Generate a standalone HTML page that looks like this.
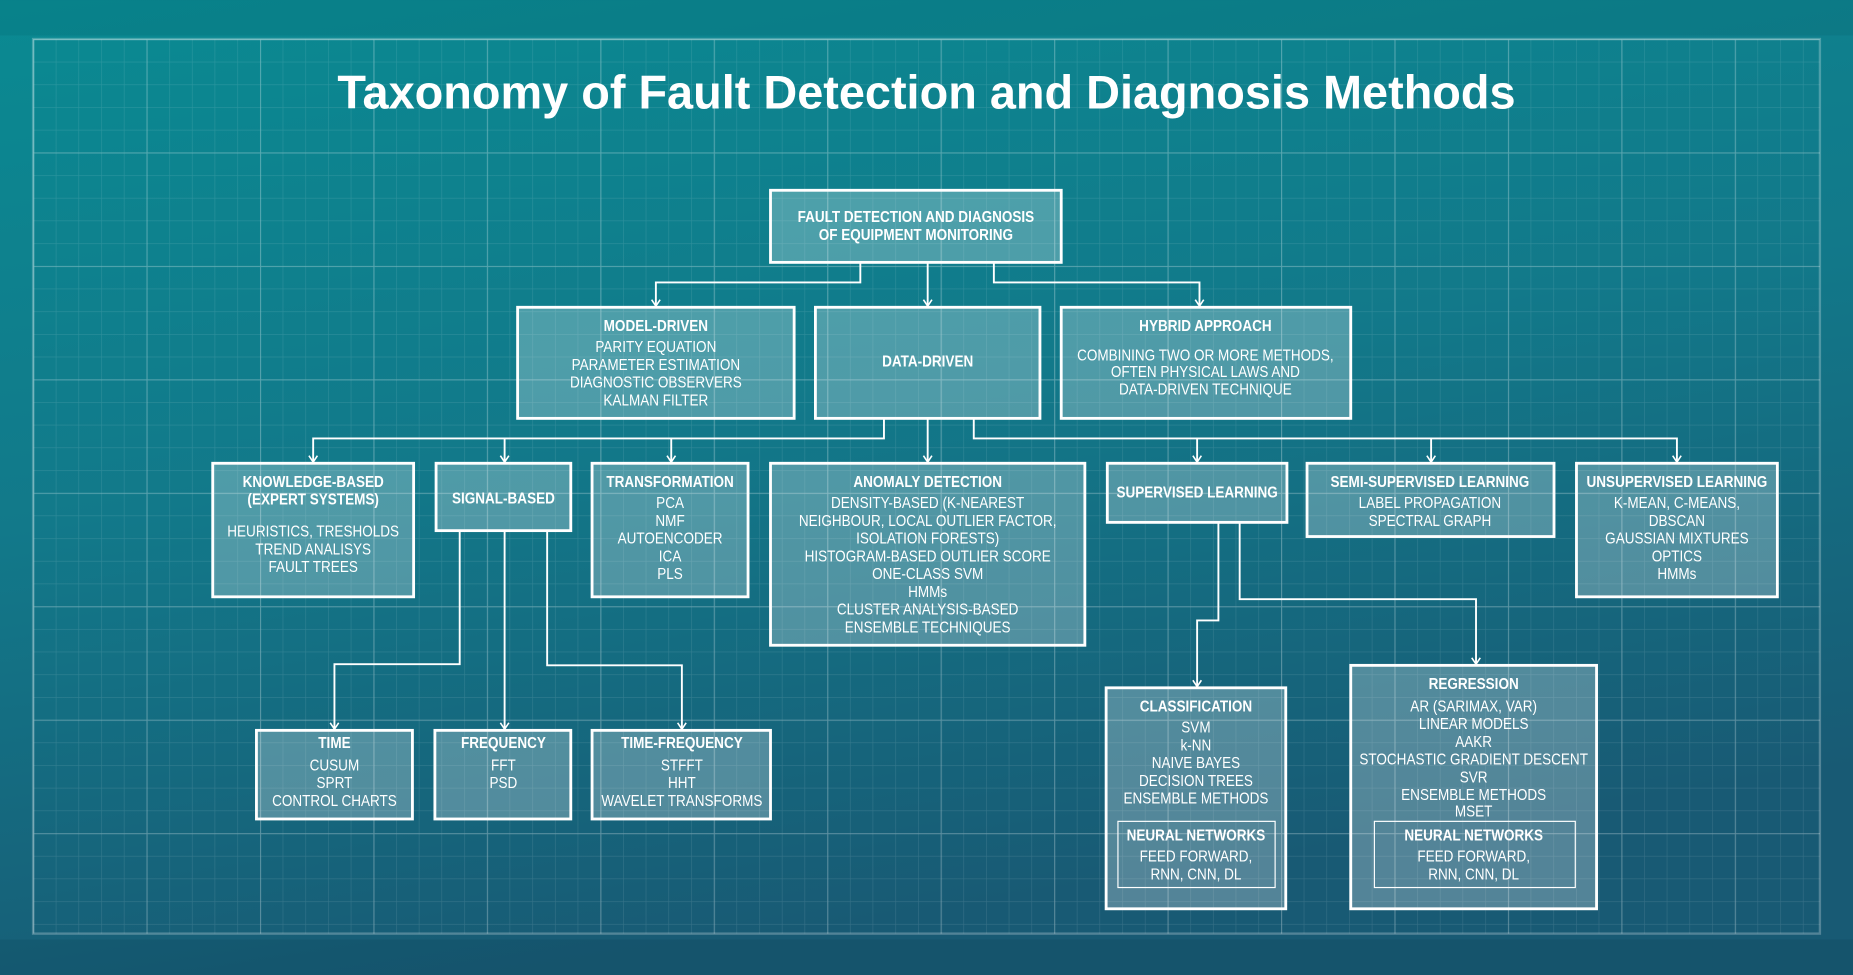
<!DOCTYPE html>
<html><head><meta charset="utf-8"><style>
html,body{margin:0;padding:0;background:#136f80;}
svg{display:block}
.t text{font-family:"Liberation Sans",sans-serif;fill:#fff;text-anchor:middle;font-size:13px;transform-box:fill-box;transform-origin:center;transform:scaleX(0.88)}
.t .b{font-weight:bold}
.box{fill:rgba(255,255,255,0.26);stroke:#fff;stroke-width:2.4}
.ib{fill:none;stroke:#fff;stroke-width:1}
.c{fill:none;stroke:#fff;stroke-width:1.6}
</style></head><body>
<svg width="1853" height="975" viewBox="0 0 1568 825" xmlns="http://www.w3.org/2000/svg">
<defs>
<linearGradient id="bg" x1="0" y1="0" x2="0.3" y2="1">
<stop offset="0" stop-color="#0a8a92"/><stop offset="0.5" stop-color="#12798a"/><stop offset="1" stop-color="#185a74"/>
</linearGradient>
<pattern id="minor" width="19.2" height="19.2" patternUnits="userSpaceOnUse" x="28" y="33">
<path d="M0 0V19.2M0 0H19.2" stroke="rgba(255,255,255,0.13)" stroke-width="1" fill="none"/>
</pattern>
<pattern id="major" width="96" height="96" patternUnits="userSpaceOnUse" x="28" y="33">
<path d="M0 0V96M0 0H96" stroke="rgba(255,255,255,0.22)" stroke-width="2" fill="none"/>
</pattern>
<marker id="ar" viewBox="0 0 10 10" refX="9" refY="5" markerWidth="9" markerHeight="9" orient="auto" markerUnits="userSpaceOnUse">
<path d="M3 1L9 5L3 9" fill="none" stroke="#fff" stroke-width="1.5"/>
</marker>
</defs>
<rect width="1568" height="825" fill="url(#bg)"/>
<rect x="0" y="0" width="1568" height="30" fill="rgba(0,70,80,0.12)"/>
<rect x="0" y="795" width="1568" height="30" fill="rgba(0,40,60,0.12)"/>
<rect x="28" y="33" width="1512" height="757" fill="url(#minor)"/>
<rect x="28" y="33" width="1512" height="757" fill="url(#major)"/>
<rect x="28" y="33" width="1512" height="757" fill="none" stroke="rgba(255,255,255,0.25)" stroke-width="2"/>

<text x="784" y="92" font-family="Liberation Sans,sans-serif" font-weight="bold" font-size="40" fill="#fff" text-anchor="middle" textLength="997" lengthAdjust="spacingAndGlyphs">Taxonomy of Fault Detection and Diagnosis Methods</text>

<g class="c">
<path d="M728 222V239H555V259" marker-end="url(#ar)"/>
<path d="M785 222V259" marker-end="url(#ar)"/>
<path d="M841 222V239H1015V259" marker-end="url(#ar)"/>
<path d="M748 354V371H265V391" marker-end="url(#ar)"/>
<path d="M427 371V391" marker-end="url(#ar)"/>
<path d="M568 371V391" marker-end="url(#ar)"/>
<path d="M785 354V391" marker-end="url(#ar)"/>
<path d="M824 354V371H1419V391" marker-end="url(#ar)"/>
<path d="M1013 371V391" marker-end="url(#ar)"/>
<path d="M1211 371V391" marker-end="url(#ar)"/>
<path d="M389 449V562H283V617" marker-end="url(#ar)"/>
<path d="M427 449V617" marker-end="url(#ar)"/>
<path d="M463 449V563H577V617" marker-end="url(#ar)"/>
<path d="M1031 442V525H1013V581" marker-end="url(#ar)"/>
<path d="M1049 442V507H1249V562" marker-end="url(#ar)"/>
</g>

<g>
<rect class="box" x="652" y="161" width="246" height="61"/>
<rect class="box" x="438" y="260" width="234" height="94"/>
<rect class="box" x="690" y="260" width="190" height="94"/>
<rect class="box" x="898" y="260" width="245" height="94"/>
<rect class="box" x="180" y="392" width="170" height="113"/>
<rect class="box" x="369" y="392" width="114" height="57"/>
<rect class="box" x="501" y="392" width="132" height="113"/>
<rect class="box" x="652" y="392" width="266" height="154"/>
<rect class="box" x="937" y="392" width="152" height="50"/>
<rect class="box" x="1106" y="392" width="209" height="62"/>
<rect class="box" x="1334" y="392" width="170" height="113"/>
<rect class="box" x="217" y="618" width="132" height="75"/>
<rect class="box" x="368" y="618" width="115" height="75"/>
<rect class="box" x="501" y="618" width="151" height="75"/>
<rect class="box" x="936" y="582" width="152" height="187"/>
<rect class="box" x="1143" y="563" width="208" height="206"/>
<rect class="ib" x="946" y="695" width="133" height="56"/>
<rect class="ib" x="1163" y="695" width="170" height="56"/>
</g>

<g class="t">
<text class="b" x="775" y="188">FAULT DETECTION AND DIAGNOSIS</text>
<text class="b" x="775" y="203">OF EQUIPMENT MONITORING</text>

<text class="b" x="555" y="280">MODEL-DRIVEN</text>
<text x="555" y="298">PARITY EQUATION</text>
<text x="555" y="313">PARAMETER ESTIMATION</text>
<text x="555" y="328">DIAGNOSTIC OBSERVERS</text>
<text x="555" y="343">KALMAN FILTER</text>

<text class="b" x="785" y="310">DATA-DRIVEN</text>

<text class="b" x="1020" y="280">HYBRID APPROACH</text>
<text x="1020" y="305">COMBINING TWO OR MORE METHODS,</text>
<text x="1020" y="319">OFTEN PHYSICAL LAWS AND</text>
<text x="1020" y="334">DATA-DRIVEN TECHNIQUE</text>

<text class="b" x="265" y="412">KNOWLEDGE-BASED</text>
<text class="b" x="265" y="427">(EXPERT SYSTEMS)</text>
<text x="265" y="454">HEURISTICS, TRESHOLDS</text>
<text x="265" y="469">TREND ANALISYS</text>
<text x="265" y="484">FAULT TREES</text>

<text class="b" x="426" y="426">SIGNAL-BASED</text>

<text class="b" x="567" y="412">TRANSFORMATION</text>
<text x="567" y="430">PCA</text>
<text x="567" y="445">NMF</text>
<text x="567" y="460">AUTOENCODER</text>
<text x="567" y="475">ICA</text>
<text x="567" y="490">PLS</text>

<text class="b" x="785" y="412">ANOMALY DETECTION</text>
<text x="785" y="430">DENSITY-BASED (K-NEAREST</text>
<text x="785" y="445">NEIGHBOUR, LOCAL OUTLIER FACTOR,</text>
<text x="785" y="460">ISOLATION FORESTS)</text>
<text x="785" y="475">HISTOGRAM-BASED OUTLIER SCORE</text>
<text x="785" y="490">ONE-CLASS SVM</text>
<text x="785" y="505">HMMs</text>
<text x="785" y="520">CLUSTER ANALYSIS-BASED</text>
<text x="785" y="535">ENSEMBLE TECHNIQUES</text>

<text class="b" x="1013" y="421">SUPERVISED LEARNING</text>

<text class="b" x="1210" y="412">SEMI-SUPERVISED LEARNING</text>
<text x="1210" y="430">LABEL PROPAGATION</text>
<text x="1210" y="445">SPECTRAL GRAPH</text>

<text class="b" x="1419" y="412">UNSUPERVISED LEARNING</text>
<text x="1419" y="430">K-MEAN, C-MEANS,</text>
<text x="1419" y="445">DBSCAN</text>
<text x="1419" y="460">GAUSSIAN MIXTURES</text>
<text x="1419" y="475">OPTICS</text>
<text x="1419" y="490">HMMs</text>

<text class="b" x="283" y="633">TIME</text>
<text x="283" y="652">CUSUM</text>
<text x="283" y="667">SPRT</text>
<text x="283" y="682">CONTROL CHARTS</text>

<text class="b" x="426" y="633">FREQUENCY</text>
<text x="426" y="652">FFT</text>
<text x="426" y="667">PSD</text>

<text class="b" x="577" y="633">TIME-FREQUENCY</text>
<text x="577" y="652">STFFT</text>
<text x="577" y="667">HHT</text>
<text x="577" y="682">WAVELET TRANSFORMS</text>

<text class="b" x="1012" y="602">CLASSIFICATION</text>
<text x="1012" y="620">SVM</text>
<text x="1012" y="635">k-NN</text>
<text x="1012" y="650">NAIVE BAYES</text>
<text x="1012" y="665">DECISION TREES</text>
<text x="1012" y="680">ENSEMBLE METHODS</text>
<text class="b" x="1012" y="711">NEURAL NETWORKS</text>
<text x="1012" y="729">FEED FORWARD,</text>
<text x="1012" y="744">RNN, CNN, DL</text>

<text class="b" x="1247" y="583">REGRESSION</text>
<text x="1247" y="602">AR (SARIMAX, VAR)</text>
<text x="1247" y="617">LINEAR MODELS</text>
<text x="1247" y="632">AAKR</text>
<text x="1247" y="647">STOCHASTIC GRADIENT DESCENT</text>
<text x="1247" y="662">SVR</text>
<text x="1247" y="677">ENSEMBLE METHODS</text>
<text x="1247" y="691">MSET</text>
<text class="b" x="1247" y="711">NEURAL NETWORKS</text>
<text x="1247" y="729">FEED FORWARD,</text>
<text x="1247" y="744">RNN, CNN, DL</text>
</g>
</svg>
</body></html>
